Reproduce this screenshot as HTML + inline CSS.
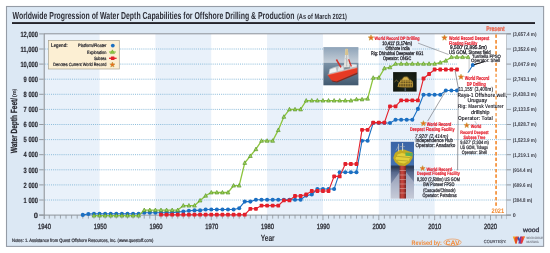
<!DOCTYPE html>
<html><head><meta charset="utf-8"><title>Worldwide Progression of Water Depth Capabilities</title>
<style>
html,body{margin:0;padding:0;background:#fff;}
body{width:550px;height:253px;overflow:hidden;}
svg{display:block;}
text{font-family:"Liberation Sans",sans-serif;}
</style></head><body>
<svg width="550" height="253" viewBox="0 0 550 253" text-rendering="geometricPrecision">

<rect x="0" y="0" width="550" height="253" fill="#ffffff"/>
<rect x="6.5" y="6.5" width="537.1" height="239.9" fill="#dce8f4" stroke="#959ca6" stroke-width="1.1"/>
<text x="12.5" y="19.0" font-size="10.2" font-weight="bold" fill="#2e2f38" textLength="282" lengthAdjust="spacingAndGlyphs">Worldwide Progression of Water Depth Capabilities for Offshore Drilling &amp; Production</text>
<text x="297" y="19.0" font-size="7.6" font-weight="bold" fill="#2e2f38" textLength="50" lengthAdjust="spacingAndGlyphs">(As of March 2021)</text>
<rect x="12" y="22.1" width="523" height="1.9" fill="#23232b"/>
<rect x="43.7" y="33.8" width="462.8" height="181.3" fill="#ffffff"/>
<rect x="43.70" y="33.8" width="55.85" height="181.3" fill="#e9f1fa"/>
<rect x="155.40" y="33.8" width="55.85" height="181.3" fill="#e9f1fa"/>
<rect x="267.10" y="33.8" width="55.85" height="181.3" fill="#e9f1fa"/>
<rect x="378.80" y="33.8" width="55.85" height="181.3" fill="#e9f1fa"/>
<line x1="44.7" y1="200.00" x2="506.5" y2="200.00" stroke="#80b5d6" stroke-width="0.9" stroke-dasharray="1 1.1"/>
<line x1="44.7" y1="184.90" x2="506.5" y2="184.90" stroke="#80b5d6" stroke-width="0.9" stroke-dasharray="1 1.1"/>
<line x1="44.7" y1="169.80" x2="506.5" y2="169.80" stroke="#80b5d6" stroke-width="0.9" stroke-dasharray="1 1.1"/>
<line x1="44.7" y1="154.70" x2="506.5" y2="154.70" stroke="#80b5d6" stroke-width="0.9" stroke-dasharray="1 1.1"/>
<line x1="44.7" y1="139.60" x2="506.5" y2="139.60" stroke="#80b5d6" stroke-width="0.9" stroke-dasharray="1 1.1"/>
<line x1="44.7" y1="124.50" x2="506.5" y2="124.50" stroke="#80b5d6" stroke-width="0.9" stroke-dasharray="1 1.1"/>
<line x1="44.7" y1="109.40" x2="506.5" y2="109.40" stroke="#80b5d6" stroke-width="0.9" stroke-dasharray="1 1.1"/>
<line x1="44.7" y1="94.30" x2="506.5" y2="94.30" stroke="#80b5d6" stroke-width="0.9" stroke-dasharray="1 1.1"/>
<line x1="44.7" y1="79.20" x2="506.5" y2="79.20" stroke="#80b5d6" stroke-width="0.9" stroke-dasharray="1 1.1"/>
<line x1="44.7" y1="64.10" x2="457" y2="64.10" stroke="#80b5d6" stroke-width="0.9" stroke-dasharray="1 1.1"/>
<line x1="44.7" y1="49.00" x2="383.5" y2="49.00" stroke="#80b5d6" stroke-width="0.9" stroke-dasharray="1 1.1"/>
<line x1="412.5" y1="49.00" x2="440" y2="49.00" stroke="#80b5d6" stroke-width="0.9" stroke-dasharray="1 1.1"/>
<line x1="43.7" y1="33.8" x2="511.0" y2="33.8" stroke="#8c9299" stroke-width="1"/>
<line x1="44.2" y1="33.8" x2="44.2" y2="219.1" stroke="#8c9299" stroke-width="1.1"/>
<line x1="506.5" y1="33.8" x2="506.5" y2="219.1" stroke="#b3bac2" stroke-width="0.8"/>
<line x1="39.2" y1="215.1" x2="511.0" y2="215.1" stroke="#8c9299" stroke-width="1"/>
<line x1="39.2" y1="215.10" x2="43.7" y2="215.10" stroke="#8c9299" stroke-width="0.9"/>
<line x1="506.5" y1="215.10" x2="511.0" y2="215.10" stroke="#8c9299" stroke-width="0.9"/>
<line x1="39.2" y1="200.00" x2="43.7" y2="200.00" stroke="#8c9299" stroke-width="0.9"/>
<line x1="506.5" y1="200.00" x2="511.0" y2="200.00" stroke="#8c9299" stroke-width="0.9"/>
<line x1="39.2" y1="184.90" x2="43.7" y2="184.90" stroke="#8c9299" stroke-width="0.9"/>
<line x1="506.5" y1="184.90" x2="511.0" y2="184.90" stroke="#8c9299" stroke-width="0.9"/>
<line x1="39.2" y1="169.80" x2="43.7" y2="169.80" stroke="#8c9299" stroke-width="0.9"/>
<line x1="506.5" y1="169.80" x2="511.0" y2="169.80" stroke="#8c9299" stroke-width="0.9"/>
<line x1="39.2" y1="154.70" x2="43.7" y2="154.70" stroke="#8c9299" stroke-width="0.9"/>
<line x1="506.5" y1="154.70" x2="511.0" y2="154.70" stroke="#8c9299" stroke-width="0.9"/>
<line x1="39.2" y1="139.60" x2="43.7" y2="139.60" stroke="#8c9299" stroke-width="0.9"/>
<line x1="506.5" y1="139.60" x2="511.0" y2="139.60" stroke="#8c9299" stroke-width="0.9"/>
<line x1="39.2" y1="124.50" x2="43.7" y2="124.50" stroke="#8c9299" stroke-width="0.9"/>
<line x1="506.5" y1="124.50" x2="511.0" y2="124.50" stroke="#8c9299" stroke-width="0.9"/>
<line x1="39.2" y1="109.40" x2="43.7" y2="109.40" stroke="#8c9299" stroke-width="0.9"/>
<line x1="506.5" y1="109.40" x2="511.0" y2="109.40" stroke="#8c9299" stroke-width="0.9"/>
<line x1="39.2" y1="94.30" x2="43.7" y2="94.30" stroke="#8c9299" stroke-width="0.9"/>
<line x1="506.5" y1="94.30" x2="511.0" y2="94.30" stroke="#8c9299" stroke-width="0.9"/>
<line x1="39.2" y1="79.20" x2="43.7" y2="79.20" stroke="#8c9299" stroke-width="0.9"/>
<line x1="506.5" y1="79.20" x2="511.0" y2="79.20" stroke="#8c9299" stroke-width="0.9"/>
<line x1="39.2" y1="64.10" x2="43.7" y2="64.10" stroke="#8c9299" stroke-width="0.9"/>
<line x1="506.5" y1="64.10" x2="511.0" y2="64.10" stroke="#8c9299" stroke-width="0.9"/>
<line x1="39.2" y1="49.00" x2="43.7" y2="49.00" stroke="#8c9299" stroke-width="0.9"/>
<line x1="506.5" y1="49.00" x2="511.0" y2="49.00" stroke="#8c9299" stroke-width="0.9"/>
<line x1="39.2" y1="33.90" x2="43.7" y2="33.90" stroke="#8c9299" stroke-width="0.9"/>
<line x1="506.5" y1="33.90" x2="511.0" y2="33.90" stroke="#8c9299" stroke-width="0.9"/>
<line x1="49.29" y1="215.1" x2="49.29" y2="218.6" stroke="#8c9299" stroke-width="0.8"/>
<line x1="54.87" y1="215.1" x2="54.87" y2="218.6" stroke="#8c9299" stroke-width="0.8"/>
<line x1="60.45" y1="215.1" x2="60.45" y2="218.6" stroke="#8c9299" stroke-width="0.8"/>
<line x1="66.04" y1="215.1" x2="66.04" y2="218.6" stroke="#8c9299" stroke-width="0.8"/>
<line x1="71.62" y1="215.1" x2="71.62" y2="218.6" stroke="#8c9299" stroke-width="0.8"/>
<line x1="77.21" y1="215.1" x2="77.21" y2="218.6" stroke="#8c9299" stroke-width="0.8"/>
<line x1="82.80" y1="215.1" x2="82.80" y2="218.6" stroke="#8c9299" stroke-width="0.8"/>
<line x1="88.38" y1="215.1" x2="88.38" y2="218.6" stroke="#8c9299" stroke-width="0.8"/>
<line x1="93.97" y1="215.1" x2="93.97" y2="218.6" stroke="#8c9299" stroke-width="0.8"/>
<line x1="99.55" y1="215.1" x2="99.55" y2="220.1" stroke="#8c9299" stroke-width="0.8"/>
<line x1="105.14" y1="215.1" x2="105.14" y2="218.6" stroke="#8c9299" stroke-width="0.8"/>
<line x1="110.72" y1="215.1" x2="110.72" y2="218.6" stroke="#8c9299" stroke-width="0.8"/>
<line x1="116.31" y1="215.1" x2="116.31" y2="218.6" stroke="#8c9299" stroke-width="0.8"/>
<line x1="121.89" y1="215.1" x2="121.89" y2="218.6" stroke="#8c9299" stroke-width="0.8"/>
<line x1="127.48" y1="215.1" x2="127.48" y2="218.6" stroke="#8c9299" stroke-width="0.8"/>
<line x1="133.06" y1="215.1" x2="133.06" y2="218.6" stroke="#8c9299" stroke-width="0.8"/>
<line x1="138.64" y1="215.1" x2="138.64" y2="218.6" stroke="#8c9299" stroke-width="0.8"/>
<line x1="144.23" y1="215.1" x2="144.23" y2="218.6" stroke="#8c9299" stroke-width="0.8"/>
<line x1="149.81" y1="215.1" x2="149.81" y2="218.6" stroke="#8c9299" stroke-width="0.8"/>
<line x1="155.40" y1="215.1" x2="155.40" y2="220.1" stroke="#8c9299" stroke-width="0.8"/>
<line x1="160.99" y1="215.1" x2="160.99" y2="218.6" stroke="#8c9299" stroke-width="0.8"/>
<line x1="166.57" y1="215.1" x2="166.57" y2="218.6" stroke="#8c9299" stroke-width="0.8"/>
<line x1="172.16" y1="215.1" x2="172.16" y2="218.6" stroke="#8c9299" stroke-width="0.8"/>
<line x1="177.74" y1="215.1" x2="177.74" y2="218.6" stroke="#8c9299" stroke-width="0.8"/>
<line x1="183.32" y1="215.1" x2="183.32" y2="218.6" stroke="#8c9299" stroke-width="0.8"/>
<line x1="188.91" y1="215.1" x2="188.91" y2="218.6" stroke="#8c9299" stroke-width="0.8"/>
<line x1="194.50" y1="215.1" x2="194.50" y2="218.6" stroke="#8c9299" stroke-width="0.8"/>
<line x1="200.08" y1="215.1" x2="200.08" y2="218.6" stroke="#8c9299" stroke-width="0.8"/>
<line x1="205.67" y1="215.1" x2="205.67" y2="218.6" stroke="#8c9299" stroke-width="0.8"/>
<line x1="211.25" y1="215.1" x2="211.25" y2="220.1" stroke="#8c9299" stroke-width="0.8"/>
<line x1="216.83" y1="215.1" x2="216.83" y2="218.6" stroke="#8c9299" stroke-width="0.8"/>
<line x1="222.42" y1="215.1" x2="222.42" y2="218.6" stroke="#8c9299" stroke-width="0.8"/>
<line x1="228.00" y1="215.1" x2="228.00" y2="218.6" stroke="#8c9299" stroke-width="0.8"/>
<line x1="233.59" y1="215.1" x2="233.59" y2="218.6" stroke="#8c9299" stroke-width="0.8"/>
<line x1="239.18" y1="215.1" x2="239.18" y2="218.6" stroke="#8c9299" stroke-width="0.8"/>
<line x1="244.76" y1="215.1" x2="244.76" y2="218.6" stroke="#8c9299" stroke-width="0.8"/>
<line x1="250.35" y1="215.1" x2="250.35" y2="218.6" stroke="#8c9299" stroke-width="0.8"/>
<line x1="255.93" y1="215.1" x2="255.93" y2="218.6" stroke="#8c9299" stroke-width="0.8"/>
<line x1="261.51" y1="215.1" x2="261.51" y2="218.6" stroke="#8c9299" stroke-width="0.8"/>
<line x1="267.10" y1="215.1" x2="267.10" y2="220.1" stroke="#8c9299" stroke-width="0.8"/>
<line x1="272.69" y1="215.1" x2="272.69" y2="218.6" stroke="#8c9299" stroke-width="0.8"/>
<line x1="278.27" y1="215.1" x2="278.27" y2="218.6" stroke="#8c9299" stroke-width="0.8"/>
<line x1="283.86" y1="215.1" x2="283.86" y2="218.6" stroke="#8c9299" stroke-width="0.8"/>
<line x1="289.44" y1="215.1" x2="289.44" y2="218.6" stroke="#8c9299" stroke-width="0.8"/>
<line x1="295.02" y1="215.1" x2="295.02" y2="218.6" stroke="#8c9299" stroke-width="0.8"/>
<line x1="300.61" y1="215.1" x2="300.61" y2="218.6" stroke="#8c9299" stroke-width="0.8"/>
<line x1="306.19" y1="215.1" x2="306.19" y2="218.6" stroke="#8c9299" stroke-width="0.8"/>
<line x1="311.78" y1="215.1" x2="311.78" y2="218.6" stroke="#8c9299" stroke-width="0.8"/>
<line x1="317.37" y1="215.1" x2="317.37" y2="218.6" stroke="#8c9299" stroke-width="0.8"/>
<line x1="322.95" y1="215.1" x2="322.95" y2="220.1" stroke="#8c9299" stroke-width="0.8"/>
<line x1="328.53" y1="215.1" x2="328.53" y2="218.6" stroke="#8c9299" stroke-width="0.8"/>
<line x1="334.12" y1="215.1" x2="334.12" y2="218.6" stroke="#8c9299" stroke-width="0.8"/>
<line x1="339.70" y1="215.1" x2="339.70" y2="218.6" stroke="#8c9299" stroke-width="0.8"/>
<line x1="345.29" y1="215.1" x2="345.29" y2="218.6" stroke="#8c9299" stroke-width="0.8"/>
<line x1="350.88" y1="215.1" x2="350.88" y2="218.6" stroke="#8c9299" stroke-width="0.8"/>
<line x1="356.46" y1="215.1" x2="356.46" y2="218.6" stroke="#8c9299" stroke-width="0.8"/>
<line x1="362.04" y1="215.1" x2="362.04" y2="218.6" stroke="#8c9299" stroke-width="0.8"/>
<line x1="367.63" y1="215.1" x2="367.63" y2="218.6" stroke="#8c9299" stroke-width="0.8"/>
<line x1="373.21" y1="215.1" x2="373.21" y2="218.6" stroke="#8c9299" stroke-width="0.8"/>
<line x1="378.80" y1="215.1" x2="378.80" y2="220.1" stroke="#8c9299" stroke-width="0.8"/>
<line x1="384.38" y1="215.1" x2="384.38" y2="218.6" stroke="#8c9299" stroke-width="0.8"/>
<line x1="389.97" y1="215.1" x2="389.97" y2="218.6" stroke="#8c9299" stroke-width="0.8"/>
<line x1="395.56" y1="215.1" x2="395.56" y2="218.6" stroke="#8c9299" stroke-width="0.8"/>
<line x1="401.14" y1="215.1" x2="401.14" y2="218.6" stroke="#8c9299" stroke-width="0.8"/>
<line x1="406.72" y1="215.1" x2="406.72" y2="218.6" stroke="#8c9299" stroke-width="0.8"/>
<line x1="412.31" y1="215.1" x2="412.31" y2="218.6" stroke="#8c9299" stroke-width="0.8"/>
<line x1="417.89" y1="215.1" x2="417.89" y2="218.6" stroke="#8c9299" stroke-width="0.8"/>
<line x1="423.48" y1="215.1" x2="423.48" y2="218.6" stroke="#8c9299" stroke-width="0.8"/>
<line x1="429.06" y1="215.1" x2="429.06" y2="218.6" stroke="#8c9299" stroke-width="0.8"/>
<line x1="434.65" y1="215.1" x2="434.65" y2="220.1" stroke="#8c9299" stroke-width="0.8"/>
<line x1="440.24" y1="215.1" x2="440.24" y2="218.6" stroke="#8c9299" stroke-width="0.8"/>
<line x1="445.82" y1="215.1" x2="445.82" y2="218.6" stroke="#8c9299" stroke-width="0.8"/>
<line x1="451.40" y1="215.1" x2="451.40" y2="218.6" stroke="#8c9299" stroke-width="0.8"/>
<line x1="456.99" y1="215.1" x2="456.99" y2="218.6" stroke="#8c9299" stroke-width="0.8"/>
<line x1="462.57" y1="215.1" x2="462.57" y2="218.6" stroke="#8c9299" stroke-width="0.8"/>
<line x1="468.16" y1="215.1" x2="468.16" y2="218.6" stroke="#8c9299" stroke-width="0.8"/>
<line x1="473.75" y1="215.1" x2="473.75" y2="218.6" stroke="#8c9299" stroke-width="0.8"/>
<line x1="479.33" y1="215.1" x2="479.33" y2="218.6" stroke="#8c9299" stroke-width="0.8"/>
<line x1="484.91" y1="215.1" x2="484.91" y2="218.6" stroke="#8c9299" stroke-width="0.8"/>
<line x1="490.50" y1="215.1" x2="490.50" y2="220.1" stroke="#8c9299" stroke-width="0.8"/>
<line x1="496.08" y1="215.1" x2="496.08" y2="218.6" stroke="#8c9299" stroke-width="0.8"/>
<line x1="501.67" y1="215.1" x2="501.67" y2="218.6" stroke="#8c9299" stroke-width="0.8"/>
<text x="38.0" y="36.60" font-size="7.6" font-weight="bold" fill="#2c2d35" stroke="#2c2d35" stroke-width="0.18" text-anchor="end" textLength="17.6" lengthAdjust="spacingAndGlyphs">12,000</text>
<text x="38.0" y="51.70" font-size="7.6" font-weight="bold" fill="#2c2d35" stroke="#2c2d35" stroke-width="0.18" text-anchor="end" textLength="17.6" lengthAdjust="spacingAndGlyphs">11,000</text>
<text x="38.0" y="66.80" font-size="7.6" font-weight="bold" fill="#2c2d35" stroke="#2c2d35" stroke-width="0.18" text-anchor="end" textLength="17.6" lengthAdjust="spacingAndGlyphs">10,000</text>
<text x="38.0" y="81.90" font-size="7.6" font-weight="bold" fill="#2c2d35" stroke="#2c2d35" stroke-width="0.18" text-anchor="end" textLength="14.4" lengthAdjust="spacingAndGlyphs">9 000</text>
<text x="38.0" y="97.00" font-size="7.6" font-weight="bold" fill="#2c2d35" stroke="#2c2d35" stroke-width="0.18" text-anchor="end" textLength="14.4" lengthAdjust="spacingAndGlyphs">8 000</text>
<text x="38.0" y="112.10" font-size="7.6" font-weight="bold" fill="#2c2d35" stroke="#2c2d35" stroke-width="0.18" text-anchor="end" textLength="14.4" lengthAdjust="spacingAndGlyphs">7 000</text>
<text x="38.0" y="127.20" font-size="7.6" font-weight="bold" fill="#2c2d35" stroke="#2c2d35" stroke-width="0.18" text-anchor="end" textLength="14.4" lengthAdjust="spacingAndGlyphs">6 000</text>
<text x="38.0" y="142.30" font-size="7.6" font-weight="bold" fill="#2c2d35" stroke="#2c2d35" stroke-width="0.18" text-anchor="end" textLength="14.4" lengthAdjust="spacingAndGlyphs">5 000</text>
<text x="38.0" y="157.40" font-size="7.6" font-weight="bold" fill="#2c2d35" stroke="#2c2d35" stroke-width="0.18" text-anchor="end" textLength="14.4" lengthAdjust="spacingAndGlyphs">4 000</text>
<text x="38.0" y="172.50" font-size="7.6" font-weight="bold" fill="#2c2d35" stroke="#2c2d35" stroke-width="0.18" text-anchor="end" textLength="14.4" lengthAdjust="spacingAndGlyphs">3 000</text>
<text x="38.0" y="187.60" font-size="7.6" font-weight="bold" fill="#2c2d35" stroke="#2c2d35" stroke-width="0.18" text-anchor="end" textLength="14.4" lengthAdjust="spacingAndGlyphs">2 000</text>
<text x="38.0" y="202.70" font-size="7.6" font-weight="bold" fill="#2c2d35" stroke="#2c2d35" stroke-width="0.18" text-anchor="end" textLength="14.4" lengthAdjust="spacingAndGlyphs">1 000</text>
<text x="38.0" y="217.80" font-size="7.6" font-weight="bold" fill="#2c2d35" stroke="#2c2d35" stroke-width="0.18" text-anchor="end">0</text>
<text x="512.7" y="217.00" font-size="5.3" font-weight="bold" fill="#3a3b45">0</text>
<text x="512.7" y="201.90" font-size="5.3" font-weight="bold" fill="#3a3b45" textLength="19.5" lengthAdjust="spacingAndGlyphs">(304.8 m)</text>
<text x="512.7" y="186.80" font-size="5.3" font-weight="bold" fill="#3a3b45" textLength="19.5" lengthAdjust="spacingAndGlyphs">(609.6 m)</text>
<text x="512.7" y="171.70" font-size="5.3" font-weight="bold" fill="#3a3b45" textLength="19.5" lengthAdjust="spacingAndGlyphs">(914.4 m)</text>
<text x="512.7" y="156.60" font-size="5.3" font-weight="bold" fill="#3a3b45" textLength="23.8" lengthAdjust="spacingAndGlyphs">(1,219.1 m)</text>
<text x="512.7" y="141.50" font-size="5.3" font-weight="bold" fill="#3a3b45" textLength="23.8" lengthAdjust="spacingAndGlyphs">(1,523.9 m)</text>
<text x="512.7" y="126.40" font-size="5.3" font-weight="bold" fill="#3a3b45" textLength="23.8" lengthAdjust="spacingAndGlyphs">(1,828.7 m)</text>
<text x="512.7" y="111.30" font-size="5.3" font-weight="bold" fill="#3a3b45" textLength="23.8" lengthAdjust="spacingAndGlyphs">(2,133.5 m)</text>
<text x="512.7" y="96.20" font-size="5.3" font-weight="bold" fill="#3a3b45" textLength="23.8" lengthAdjust="spacingAndGlyphs">(2,438.3 m)</text>
<text x="512.7" y="81.10" font-size="5.3" font-weight="bold" fill="#3a3b45" textLength="23.8" lengthAdjust="spacingAndGlyphs">(2,743.1 m)</text>
<text x="512.7" y="66.00" font-size="5.3" font-weight="bold" fill="#3a3b45" textLength="23.8" lengthAdjust="spacingAndGlyphs">(3,047.9 m)</text>
<text x="512.7" y="50.90" font-size="5.3" font-weight="bold" fill="#3a3b45" textLength="23.8" lengthAdjust="spacingAndGlyphs">(3,352.6 m)</text>
<text x="512.7" y="35.80" font-size="5.3" font-weight="bold" fill="#3a3b45" textLength="23.8" lengthAdjust="spacingAndGlyphs">(3,657.4 m)</text>
<text x="44.50" y="229.2" font-size="7.5" fill="#2e2f37" stroke="#2e2f37" stroke-width="0.35" text-anchor="middle" textLength="12.9" lengthAdjust="spacingAndGlyphs">1940</text>
<text x="100.25" y="229.2" font-size="7.5" fill="#2e2f37" stroke="#2e2f37" stroke-width="0.35" text-anchor="middle" textLength="12.9" lengthAdjust="spacingAndGlyphs">1950</text>
<text x="156.00" y="229.2" font-size="7.5" fill="#2e2f37" stroke="#2e2f37" stroke-width="0.35" text-anchor="middle" textLength="12.9" lengthAdjust="spacingAndGlyphs">1960</text>
<text x="211.75" y="229.2" font-size="7.5" fill="#2e2f37" stroke="#2e2f37" stroke-width="0.35" text-anchor="middle" textLength="12.9" lengthAdjust="spacingAndGlyphs">1970</text>
<text x="267.50" y="229.2" font-size="7.5" fill="#2e2f37" stroke="#2e2f37" stroke-width="0.35" text-anchor="middle" textLength="12.9" lengthAdjust="spacingAndGlyphs">1980</text>
<text x="323.25" y="229.2" font-size="7.5" fill="#2e2f37" stroke="#2e2f37" stroke-width="0.35" text-anchor="middle" textLength="12.9" lengthAdjust="spacingAndGlyphs">1990</text>
<text x="379.00" y="229.2" font-size="7.5" fill="#2e2f37" stroke="#2e2f37" stroke-width="0.35" text-anchor="middle" textLength="12.9" lengthAdjust="spacingAndGlyphs">2000</text>
<text x="434.75" y="229.2" font-size="7.5" fill="#2e2f37" stroke="#2e2f37" stroke-width="0.35" text-anchor="middle" textLength="12.9" lengthAdjust="spacingAndGlyphs">2010</text>
<text x="490.50" y="229.2" font-size="7.5" fill="#2e2f37" stroke="#2e2f37" stroke-width="0.35" text-anchor="middle" textLength="12.9" lengthAdjust="spacingAndGlyphs">2020</text>
<text x="267.7" y="241.3" font-size="9.0" font-weight="bold" fill="#2a2b33" text-anchor="middle" textLength="14.0" lengthAdjust="spacingAndGlyphs">Year</text>
<text transform="translate(17.3,153.2) rotate(-90)" font-size="8.9" font-weight="bold" fill="#2a2b33" stroke="#2a2b33" stroke-width="0.25" textLength="55.2" lengthAdjust="spacingAndGlyphs">Water Depth Feet/</text>
<text transform="translate(16.4,97.2) rotate(-90)" font-size="5.4" fill="#2a2b33" stroke="#2a2b33" stroke-width="0.15" textLength="8.6" lengthAdjust="spacingAndGlyphs">(m)</text>
<line x1="496.08" y1="34.5" x2="496.08" y2="206.2" stroke="#f4913a" stroke-width="1.3" stroke-dasharray="3.3 2.3"/>
<text x="495.5" y="31.1" font-size="6.8" font-weight="bold" fill="#ec5f45" stroke="#ec5f45" stroke-width="0.2" text-anchor="middle" textLength="18.6" lengthAdjust="spacingAndGlyphs">Present</text>
<text x="497.8" y="213.1" font-size="6.6" font-weight="bold" fill="#f28a30" text-anchor="middle" textLength="12.6" lengthAdjust="spacingAndGlyphs">2021</text>
<path d="M82.80,214.90 L88.38,214.00 L93.97,213.80 L99.55,213.80 L105.14,213.80 L110.72,213.80 L116.31,213.80 L121.89,213.80 L127.48,213.80 L133.06,213.80 L138.64,213.80 L144.23,212.80 L149.81,212.80 L155.40,212.80 L160.99,212.80 L166.57,212.80 L172.16,212.80 L177.74,211.90 L183.32,211.50 L188.91,210.80 L194.50,210.40 L200.08,210.40 L205.67,209.50 L211.25,209.50 L216.83,209.50 L222.42,209.50 L228.00,209.50 L233.59,209.50 L239.18,208.20 L244.76,201.60 L250.35,201.60 L255.93,199.70 L261.51,199.70 L267.10,199.70 L272.69,199.70 L278.27,199.70 L283.86,199.70 L289.44,199.70 L295.02,199.70 L300.61,199.70 L306.19,195.60 L311.78,194.50 L317.37,189.00 L322.95,189.00 L328.53,189.00 L334.12,189.00 L339.70,172.20 L345.29,172.20 L350.88,172.20 L356.46,172.20 L362.04,140.70 L367.63,140.70 L373.21,123.00 L378.80,123.00 L384.38,123.00 L389.97,123.00 L395.56,119.70 L401.14,119.70 L406.72,119.70 L412.31,119.70 L417.89,108.90 L423.48,94.70 L429.06,94.70 L434.65,94.70 L440.24,94.70 L445.82,90.50 L451.40,90.50 L456.99,90.50 L472.8,65.0" fill="none" stroke="#1b6fc2" stroke-width="1.1"/>
<circle cx="82.80" cy="214.90" r="2.05" fill="#1b6fc2"/>
<circle cx="88.38" cy="214.00" r="2.05" fill="#1b6fc2"/>
<circle cx="93.97" cy="213.80" r="2.05" fill="#1b6fc2"/>
<circle cx="99.55" cy="213.80" r="2.05" fill="#1b6fc2"/>
<circle cx="105.14" cy="213.80" r="2.05" fill="#1b6fc2"/>
<circle cx="110.72" cy="213.80" r="2.05" fill="#1b6fc2"/>
<circle cx="116.31" cy="213.80" r="2.05" fill="#1b6fc2"/>
<circle cx="121.89" cy="213.80" r="2.05" fill="#1b6fc2"/>
<circle cx="127.48" cy="213.80" r="2.05" fill="#1b6fc2"/>
<circle cx="133.06" cy="213.80" r="2.05" fill="#1b6fc2"/>
<circle cx="138.64" cy="213.80" r="2.05" fill="#1b6fc2"/>
<circle cx="144.23" cy="212.80" r="2.05" fill="#1b6fc2"/>
<circle cx="149.81" cy="212.80" r="2.05" fill="#1b6fc2"/>
<circle cx="155.40" cy="212.80" r="2.05" fill="#1b6fc2"/>
<circle cx="160.99" cy="212.80" r="2.05" fill="#1b6fc2"/>
<circle cx="166.57" cy="212.80" r="2.05" fill="#1b6fc2"/>
<circle cx="172.16" cy="212.80" r="2.05" fill="#1b6fc2"/>
<circle cx="177.74" cy="211.90" r="2.05" fill="#1b6fc2"/>
<circle cx="183.32" cy="211.50" r="2.05" fill="#1b6fc2"/>
<circle cx="188.91" cy="210.80" r="2.05" fill="#1b6fc2"/>
<circle cx="194.50" cy="210.40" r="2.05" fill="#1b6fc2"/>
<circle cx="200.08" cy="210.40" r="2.05" fill="#1b6fc2"/>
<circle cx="205.67" cy="209.50" r="2.05" fill="#1b6fc2"/>
<circle cx="211.25" cy="209.50" r="2.05" fill="#1b6fc2"/>
<circle cx="216.83" cy="209.50" r="2.05" fill="#1b6fc2"/>
<circle cx="222.42" cy="209.50" r="2.05" fill="#1b6fc2"/>
<circle cx="228.00" cy="209.50" r="2.05" fill="#1b6fc2"/>
<circle cx="233.59" cy="209.50" r="2.05" fill="#1b6fc2"/>
<circle cx="239.18" cy="208.20" r="2.05" fill="#1b6fc2"/>
<circle cx="244.76" cy="201.60" r="2.05" fill="#1b6fc2"/>
<circle cx="250.35" cy="201.60" r="2.05" fill="#1b6fc2"/>
<circle cx="255.93" cy="199.70" r="2.05" fill="#1b6fc2"/>
<circle cx="261.51" cy="199.70" r="2.05" fill="#1b6fc2"/>
<circle cx="267.10" cy="199.70" r="2.05" fill="#1b6fc2"/>
<circle cx="272.69" cy="199.70" r="2.05" fill="#1b6fc2"/>
<circle cx="278.27" cy="199.70" r="2.05" fill="#1b6fc2"/>
<circle cx="283.86" cy="199.70" r="2.05" fill="#1b6fc2"/>
<circle cx="289.44" cy="199.70" r="2.05" fill="#1b6fc2"/>
<circle cx="295.02" cy="199.70" r="2.05" fill="#1b6fc2"/>
<circle cx="300.61" cy="199.70" r="2.05" fill="#1b6fc2"/>
<circle cx="306.19" cy="195.60" r="2.05" fill="#1b6fc2"/>
<circle cx="311.78" cy="194.50" r="2.05" fill="#1b6fc2"/>
<circle cx="317.37" cy="189.00" r="2.05" fill="#1b6fc2"/>
<circle cx="322.95" cy="189.00" r="2.05" fill="#1b6fc2"/>
<circle cx="328.53" cy="189.00" r="2.05" fill="#1b6fc2"/>
<circle cx="334.12" cy="189.00" r="2.05" fill="#1b6fc2"/>
<circle cx="339.70" cy="172.20" r="2.05" fill="#1b6fc2"/>
<circle cx="345.29" cy="172.20" r="2.05" fill="#1b6fc2"/>
<circle cx="350.88" cy="172.20" r="2.05" fill="#1b6fc2"/>
<circle cx="356.46" cy="172.20" r="2.05" fill="#1b6fc2"/>
<circle cx="362.04" cy="140.70" r="2.05" fill="#1b6fc2"/>
<circle cx="367.63" cy="140.70" r="2.05" fill="#1b6fc2"/>
<circle cx="373.21" cy="123.00" r="2.05" fill="#1b6fc2"/>
<circle cx="378.80" cy="123.00" r="2.05" fill="#1b6fc2"/>
<circle cx="384.38" cy="123.00" r="2.05" fill="#1b6fc2"/>
<circle cx="389.97" cy="123.00" r="2.05" fill="#1b6fc2"/>
<circle cx="395.56" cy="119.70" r="2.05" fill="#1b6fc2"/>
<circle cx="401.14" cy="119.70" r="2.05" fill="#1b6fc2"/>
<circle cx="406.72" cy="119.70" r="2.05" fill="#1b6fc2"/>
<circle cx="412.31" cy="119.70" r="2.05" fill="#1b6fc2"/>
<circle cx="417.89" cy="108.90" r="2.05" fill="#1b6fc2"/>
<circle cx="423.48" cy="94.70" r="2.05" fill="#1b6fc2"/>
<circle cx="429.06" cy="94.70" r="2.05" fill="#1b6fc2"/>
<circle cx="434.65" cy="94.70" r="2.05" fill="#1b6fc2"/>
<circle cx="440.24" cy="94.70" r="2.05" fill="#1b6fc2"/>
<circle cx="445.82" cy="90.50" r="2.05" fill="#1b6fc2"/>
<circle cx="451.40" cy="90.50" r="2.05" fill="#1b6fc2"/>
<circle cx="456.99" cy="90.50" r="2.05" fill="#1b6fc2"/>
<circle cx="472.8" cy="65.0" r="2.05" fill="#1b6fc2"/>
<path d="M160.99,214.70 L166.57,214.70 L172.16,214.70 L177.74,214.70 L183.32,214.70 L188.91,214.70 L194.50,214.70 L200.08,214.70 L205.67,214.70 L211.25,214.70 L216.83,214.70 L222.42,214.70 L228.00,214.70 L233.59,214.70 L239.18,214.70 L244.76,214.70 L250.35,208.80 L255.93,208.80 L261.51,205.60 L267.10,205.60 L272.69,205.60 L278.27,205.60 L283.86,200.40 L289.44,200.40 L295.02,196.00 L300.61,196.00 L306.19,194.50 L311.78,191.00 L317.37,191.00 L322.95,191.00 L328.53,191.00 L334.12,176.40 L339.70,176.40 L345.29,164.00 L350.88,164.00 L356.46,164.00 L362.04,129.80 L367.63,129.80 L373.21,122.60 L378.80,122.60 L384.38,122.60 L389.97,106.30 L395.56,106.30 L401.14,100.40 L406.72,100.40 L412.31,100.40 L417.89,100.40 L423.48,78.50 L429.06,74.00 L434.65,69.50 L440.24,69.50 L445.82,69.50 L451.40,69.50 L456.99,69.50" fill="none" stroke="#e3202b" stroke-width="1.1"/>
<rect x="159.09" y="212.80" width="3.8" height="3.8" rx="0.9" fill="#e3202b"/>
<rect x="164.67" y="212.80" width="3.8" height="3.8" rx="0.9" fill="#e3202b"/>
<rect x="170.26" y="212.80" width="3.8" height="3.8" rx="0.9" fill="#e3202b"/>
<rect x="175.84" y="212.80" width="3.8" height="3.8" rx="0.9" fill="#e3202b"/>
<rect x="181.42" y="212.80" width="3.8" height="3.8" rx="0.9" fill="#e3202b"/>
<rect x="187.01" y="212.80" width="3.8" height="3.8" rx="0.9" fill="#e3202b"/>
<rect x="192.59" y="212.80" width="3.8" height="3.8" rx="0.9" fill="#e3202b"/>
<rect x="198.18" y="212.80" width="3.8" height="3.8" rx="0.9" fill="#e3202b"/>
<rect x="203.77" y="212.80" width="3.8" height="3.8" rx="0.9" fill="#e3202b"/>
<rect x="209.35" y="212.80" width="3.8" height="3.8" rx="0.9" fill="#e3202b"/>
<rect x="214.93" y="212.80" width="3.8" height="3.8" rx="0.9" fill="#e3202b"/>
<rect x="220.52" y="212.80" width="3.8" height="3.8" rx="0.9" fill="#e3202b"/>
<rect x="226.10" y="212.80" width="3.8" height="3.8" rx="0.9" fill="#e3202b"/>
<rect x="231.69" y="212.80" width="3.8" height="3.8" rx="0.9" fill="#e3202b"/>
<rect x="237.28" y="212.80" width="3.8" height="3.8" rx="0.9" fill="#e3202b"/>
<rect x="242.86" y="212.80" width="3.8" height="3.8" rx="0.9" fill="#e3202b"/>
<rect x="248.45" y="206.90" width="3.8" height="3.8" rx="0.9" fill="#e3202b"/>
<rect x="254.03" y="206.90" width="3.8" height="3.8" rx="0.9" fill="#e3202b"/>
<rect x="259.62" y="203.70" width="3.8" height="3.8" rx="0.9" fill="#e3202b"/>
<rect x="265.20" y="203.70" width="3.8" height="3.8" rx="0.9" fill="#e3202b"/>
<rect x="270.79" y="203.70" width="3.8" height="3.8" rx="0.9" fill="#e3202b"/>
<rect x="276.37" y="203.70" width="3.8" height="3.8" rx="0.9" fill="#e3202b"/>
<rect x="281.96" y="198.50" width="3.8" height="3.8" rx="0.9" fill="#e3202b"/>
<rect x="287.54" y="198.50" width="3.8" height="3.8" rx="0.9" fill="#e3202b"/>
<rect x="293.12" y="194.10" width="3.8" height="3.8" rx="0.9" fill="#e3202b"/>
<rect x="298.71" y="194.10" width="3.8" height="3.8" rx="0.9" fill="#e3202b"/>
<rect x="304.30" y="192.60" width="3.8" height="3.8" rx="0.9" fill="#e3202b"/>
<rect x="309.88" y="189.10" width="3.8" height="3.8" rx="0.9" fill="#e3202b"/>
<rect x="315.47" y="189.10" width="3.8" height="3.8" rx="0.9" fill="#e3202b"/>
<rect x="321.05" y="189.10" width="3.8" height="3.8" rx="0.9" fill="#e3202b"/>
<rect x="326.63" y="189.10" width="3.8" height="3.8" rx="0.9" fill="#e3202b"/>
<rect x="332.22" y="174.50" width="3.8" height="3.8" rx="0.9" fill="#e3202b"/>
<rect x="337.81" y="174.50" width="3.8" height="3.8" rx="0.9" fill="#e3202b"/>
<rect x="343.39" y="162.10" width="3.8" height="3.8" rx="0.9" fill="#e3202b"/>
<rect x="348.98" y="162.10" width="3.8" height="3.8" rx="0.9" fill="#e3202b"/>
<rect x="354.56" y="162.10" width="3.8" height="3.8" rx="0.9" fill="#e3202b"/>
<rect x="360.14" y="127.90" width="3.8" height="3.8" rx="0.9" fill="#e3202b"/>
<rect x="365.73" y="127.90" width="3.8" height="3.8" rx="0.9" fill="#e3202b"/>
<rect x="371.31" y="120.70" width="3.8" height="3.8" rx="0.9" fill="#e3202b"/>
<rect x="376.90" y="120.70" width="3.8" height="3.8" rx="0.9" fill="#e3202b"/>
<rect x="382.49" y="120.70" width="3.8" height="3.8" rx="0.9" fill="#e3202b"/>
<rect x="388.07" y="104.40" width="3.8" height="3.8" rx="0.9" fill="#e3202b"/>
<rect x="393.66" y="104.40" width="3.8" height="3.8" rx="0.9" fill="#e3202b"/>
<rect x="399.24" y="98.50" width="3.8" height="3.8" rx="0.9" fill="#e3202b"/>
<rect x="404.82" y="98.50" width="3.8" height="3.8" rx="0.9" fill="#e3202b"/>
<rect x="410.41" y="98.50" width="3.8" height="3.8" rx="0.9" fill="#e3202b"/>
<rect x="416.00" y="98.50" width="3.8" height="3.8" rx="0.9" fill="#e3202b"/>
<rect x="421.58" y="76.60" width="3.8" height="3.8" rx="0.9" fill="#e3202b"/>
<rect x="427.17" y="72.10" width="3.8" height="3.8" rx="0.9" fill="#e3202b"/>
<rect x="432.75" y="67.60" width="3.8" height="3.8" rx="0.9" fill="#e3202b"/>
<rect x="438.34" y="67.60" width="3.8" height="3.8" rx="0.9" fill="#e3202b"/>
<rect x="443.92" y="67.60" width="3.8" height="3.8" rx="0.9" fill="#e3202b"/>
<rect x="449.50" y="67.60" width="3.8" height="3.8" rx="0.9" fill="#e3202b"/>
<rect x="455.09" y="67.60" width="3.8" height="3.8" rx="0.9" fill="#e3202b"/>
<path d="M93.97,215.60 L99.55,215.60 L105.14,215.60 L110.72,215.60 L116.31,215.60 L121.89,215.60 L127.48,215.60 L133.06,215.60 L138.64,215.60 L144.23,210.10 L149.81,210.10 L155.40,210.10 L160.99,210.10 L166.57,210.10 L172.16,210.10 L177.74,210.10 L183.32,205.60 L188.91,205.60 L194.50,205.60 L200.08,200.50 L205.67,195.70 L211.25,192.50 L216.83,192.50 L222.42,192.50 L228.00,192.50 L233.59,185.60 L239.18,185.60 L244.76,162.90 L250.35,156.00 L255.93,149.20 L261.51,140.80 L267.10,140.80 L272.69,140.80 L278.27,130.10 L283.86,116.80 L289.44,109.40 L295.02,109.40 L300.61,109.40 L306.19,100.60 L311.78,100.60 L317.37,100.60 L322.95,100.60 L328.53,100.60 L334.12,100.60 L339.70,100.60 L345.29,100.60 L350.88,100.60 L356.46,99.40 L362.04,99.40 L367.63,98.70 L373.21,77.80 L378.80,77.80 L384.38,68.30 L389.97,67.30 L395.56,63.80 L401.14,63.80 L406.72,63.80 L412.31,63.80 L417.89,63.80 L423.48,63.80 L429.06,63.80 L434.65,63.80 L440.24,62.60 L445.82,60.70 L451.40,57.10 L456.99,57.10 L462.57,57.10 L468.16,57.10" fill="none" stroke="#8cc43e" stroke-width="1.3"/>
<path d="M93.97,213.50 L95.87,217.10 L92.06,217.10 Z" fill="#9fd05a" stroke="#4f8f22" stroke-width="0.6" stroke-linejoin="round"/>
<path d="M99.55,213.50 L101.45,217.10 L97.65,217.10 Z" fill="#9fd05a" stroke="#4f8f22" stroke-width="0.6" stroke-linejoin="round"/>
<path d="M105.14,213.50 L107.04,217.10 L103.23,217.10 Z" fill="#9fd05a" stroke="#4f8f22" stroke-width="0.6" stroke-linejoin="round"/>
<path d="M110.72,213.50 L112.62,217.10 L108.82,217.10 Z" fill="#9fd05a" stroke="#4f8f22" stroke-width="0.6" stroke-linejoin="round"/>
<path d="M116.31,213.50 L118.21,217.10 L114.41,217.10 Z" fill="#9fd05a" stroke="#4f8f22" stroke-width="0.6" stroke-linejoin="round"/>
<path d="M121.89,213.50 L123.79,217.10 L119.99,217.10 Z" fill="#9fd05a" stroke="#4f8f22" stroke-width="0.6" stroke-linejoin="round"/>
<path d="M127.48,213.50 L129.38,217.10 L125.58,217.10 Z" fill="#9fd05a" stroke="#4f8f22" stroke-width="0.6" stroke-linejoin="round"/>
<path d="M133.06,213.50 L134.96,217.10 L131.16,217.10 Z" fill="#9fd05a" stroke="#4f8f22" stroke-width="0.6" stroke-linejoin="round"/>
<path d="M138.64,213.50 L140.54,217.10 L136.74,217.10 Z" fill="#9fd05a" stroke="#4f8f22" stroke-width="0.6" stroke-linejoin="round"/>
<path d="M144.23,208.00 L146.13,211.60 L142.33,211.60 Z" fill="#9fd05a" stroke="#4f8f22" stroke-width="0.6" stroke-linejoin="round"/>
<path d="M149.81,208.00 L151.72,211.60 L147.91,211.60 Z" fill="#9fd05a" stroke="#4f8f22" stroke-width="0.6" stroke-linejoin="round"/>
<path d="M155.40,208.00 L157.30,211.60 L153.50,211.60 Z" fill="#9fd05a" stroke="#4f8f22" stroke-width="0.6" stroke-linejoin="round"/>
<path d="M160.99,208.00 L162.89,211.60 L159.09,211.60 Z" fill="#9fd05a" stroke="#4f8f22" stroke-width="0.6" stroke-linejoin="round"/>
<path d="M166.57,208.00 L168.47,211.60 L164.67,211.60 Z" fill="#9fd05a" stroke="#4f8f22" stroke-width="0.6" stroke-linejoin="round"/>
<path d="M172.16,208.00 L174.06,211.60 L170.26,211.60 Z" fill="#9fd05a" stroke="#4f8f22" stroke-width="0.6" stroke-linejoin="round"/>
<path d="M177.74,208.00 L179.64,211.60 L175.84,211.60 Z" fill="#9fd05a" stroke="#4f8f22" stroke-width="0.6" stroke-linejoin="round"/>
<path d="M183.32,203.50 L185.22,207.10 L181.42,207.10 Z" fill="#9fd05a" stroke="#4f8f22" stroke-width="0.6" stroke-linejoin="round"/>
<path d="M188.91,203.50 L190.81,207.10 L187.01,207.10 Z" fill="#9fd05a" stroke="#4f8f22" stroke-width="0.6" stroke-linejoin="round"/>
<path d="M194.50,203.50 L196.40,207.10 L192.59,207.10 Z" fill="#9fd05a" stroke="#4f8f22" stroke-width="0.6" stroke-linejoin="round"/>
<path d="M200.08,198.40 L201.98,202.00 L198.18,202.00 Z" fill="#9fd05a" stroke="#4f8f22" stroke-width="0.6" stroke-linejoin="round"/>
<path d="M205.67,193.60 L207.57,197.20 L203.77,197.20 Z" fill="#9fd05a" stroke="#4f8f22" stroke-width="0.6" stroke-linejoin="round"/>
<path d="M211.25,190.40 L213.15,194.00 L209.35,194.00 Z" fill="#9fd05a" stroke="#4f8f22" stroke-width="0.6" stroke-linejoin="round"/>
<path d="M216.83,190.40 L218.73,194.00 L214.93,194.00 Z" fill="#9fd05a" stroke="#4f8f22" stroke-width="0.6" stroke-linejoin="round"/>
<path d="M222.42,190.40 L224.32,194.00 L220.52,194.00 Z" fill="#9fd05a" stroke="#4f8f22" stroke-width="0.6" stroke-linejoin="round"/>
<path d="M228.00,190.40 L229.91,194.00 L226.10,194.00 Z" fill="#9fd05a" stroke="#4f8f22" stroke-width="0.6" stroke-linejoin="round"/>
<path d="M233.59,183.50 L235.49,187.10 L231.69,187.10 Z" fill="#9fd05a" stroke="#4f8f22" stroke-width="0.6" stroke-linejoin="round"/>
<path d="M239.18,183.50 L241.08,187.10 L237.28,187.10 Z" fill="#9fd05a" stroke="#4f8f22" stroke-width="0.6" stroke-linejoin="round"/>
<path d="M244.76,160.80 L246.66,164.40 L242.86,164.40 Z" fill="#9fd05a" stroke="#4f8f22" stroke-width="0.6" stroke-linejoin="round"/>
<path d="M250.35,153.90 L252.25,157.50 L248.45,157.50 Z" fill="#9fd05a" stroke="#4f8f22" stroke-width="0.6" stroke-linejoin="round"/>
<path d="M255.93,147.10 L257.83,150.70 L254.03,150.70 Z" fill="#9fd05a" stroke="#4f8f22" stroke-width="0.6" stroke-linejoin="round"/>
<path d="M261.51,138.70 L263.41,142.30 L259.62,142.30 Z" fill="#9fd05a" stroke="#4f8f22" stroke-width="0.6" stroke-linejoin="round"/>
<path d="M267.10,138.70 L269.00,142.30 L265.20,142.30 Z" fill="#9fd05a" stroke="#4f8f22" stroke-width="0.6" stroke-linejoin="round"/>
<path d="M272.69,138.70 L274.58,142.30 L270.79,142.30 Z" fill="#9fd05a" stroke="#4f8f22" stroke-width="0.6" stroke-linejoin="round"/>
<path d="M278.27,128.00 L280.17,131.60 L276.37,131.60 Z" fill="#9fd05a" stroke="#4f8f22" stroke-width="0.6" stroke-linejoin="round"/>
<path d="M283.86,114.70 L285.75,118.30 L281.96,118.30 Z" fill="#9fd05a" stroke="#4f8f22" stroke-width="0.6" stroke-linejoin="round"/>
<path d="M289.44,107.30 L291.34,110.90 L287.54,110.90 Z" fill="#9fd05a" stroke="#4f8f22" stroke-width="0.6" stroke-linejoin="round"/>
<path d="M295.02,107.30 L296.92,110.90 L293.12,110.90 Z" fill="#9fd05a" stroke="#4f8f22" stroke-width="0.6" stroke-linejoin="round"/>
<path d="M300.61,107.30 L302.51,110.90 L298.71,110.90 Z" fill="#9fd05a" stroke="#4f8f22" stroke-width="0.6" stroke-linejoin="round"/>
<path d="M306.19,98.50 L308.09,102.10 L304.30,102.10 Z" fill="#9fd05a" stroke="#4f8f22" stroke-width="0.6" stroke-linejoin="round"/>
<path d="M311.78,98.50 L313.68,102.10 L309.88,102.10 Z" fill="#9fd05a" stroke="#4f8f22" stroke-width="0.6" stroke-linejoin="round"/>
<path d="M317.37,98.50 L319.26,102.10 L315.47,102.10 Z" fill="#9fd05a" stroke="#4f8f22" stroke-width="0.6" stroke-linejoin="round"/>
<path d="M322.95,98.50 L324.85,102.10 L321.05,102.10 Z" fill="#9fd05a" stroke="#4f8f22" stroke-width="0.6" stroke-linejoin="round"/>
<path d="M328.53,98.50 L330.43,102.10 L326.63,102.10 Z" fill="#9fd05a" stroke="#4f8f22" stroke-width="0.6" stroke-linejoin="round"/>
<path d="M334.12,98.50 L336.02,102.10 L332.22,102.10 Z" fill="#9fd05a" stroke="#4f8f22" stroke-width="0.6" stroke-linejoin="round"/>
<path d="M339.70,98.50 L341.60,102.10 L337.81,102.10 Z" fill="#9fd05a" stroke="#4f8f22" stroke-width="0.6" stroke-linejoin="round"/>
<path d="M345.29,98.50 L347.19,102.10 L343.39,102.10 Z" fill="#9fd05a" stroke="#4f8f22" stroke-width="0.6" stroke-linejoin="round"/>
<path d="M350.88,98.50 L352.77,102.10 L348.98,102.10 Z" fill="#9fd05a" stroke="#4f8f22" stroke-width="0.6" stroke-linejoin="round"/>
<path d="M356.46,97.30 L358.36,100.90 L354.56,100.90 Z" fill="#9fd05a" stroke="#4f8f22" stroke-width="0.6" stroke-linejoin="round"/>
<path d="M362.04,97.30 L363.94,100.90 L360.14,100.90 Z" fill="#9fd05a" stroke="#4f8f22" stroke-width="0.6" stroke-linejoin="round"/>
<path d="M367.63,96.60 L369.53,100.20 L365.73,100.20 Z" fill="#9fd05a" stroke="#4f8f22" stroke-width="0.6" stroke-linejoin="round"/>
<path d="M373.21,75.70 L375.11,79.30 L371.31,79.30 Z" fill="#9fd05a" stroke="#4f8f22" stroke-width="0.6" stroke-linejoin="round"/>
<path d="M378.80,75.70 L380.70,79.30 L376.90,79.30 Z" fill="#9fd05a" stroke="#4f8f22" stroke-width="0.6" stroke-linejoin="round"/>
<path d="M384.38,66.20 L386.28,69.80 L382.49,69.80 Z" fill="#9fd05a" stroke="#4f8f22" stroke-width="0.6" stroke-linejoin="round"/>
<path d="M389.97,65.20 L391.87,68.80 L388.07,68.80 Z" fill="#9fd05a" stroke="#4f8f22" stroke-width="0.6" stroke-linejoin="round"/>
<path d="M395.56,61.70 L397.45,65.30 L393.66,65.30 Z" fill="#9fd05a" stroke="#4f8f22" stroke-width="0.6" stroke-linejoin="round"/>
<path d="M401.14,61.70 L403.04,65.30 L399.24,65.30 Z" fill="#9fd05a" stroke="#4f8f22" stroke-width="0.6" stroke-linejoin="round"/>
<path d="M406.72,61.70 L408.62,65.30 L404.82,65.30 Z" fill="#9fd05a" stroke="#4f8f22" stroke-width="0.6" stroke-linejoin="round"/>
<path d="M412.31,61.70 L414.21,65.30 L410.41,65.30 Z" fill="#9fd05a" stroke="#4f8f22" stroke-width="0.6" stroke-linejoin="round"/>
<path d="M417.89,61.70 L419.79,65.30 L416.00,65.30 Z" fill="#9fd05a" stroke="#4f8f22" stroke-width="0.6" stroke-linejoin="round"/>
<path d="M423.48,61.70 L425.38,65.30 L421.58,65.30 Z" fill="#9fd05a" stroke="#4f8f22" stroke-width="0.6" stroke-linejoin="round"/>
<path d="M429.06,61.70 L430.96,65.30 L427.17,65.30 Z" fill="#9fd05a" stroke="#4f8f22" stroke-width="0.6" stroke-linejoin="round"/>
<path d="M434.65,61.70 L436.55,65.30 L432.75,65.30 Z" fill="#9fd05a" stroke="#4f8f22" stroke-width="0.6" stroke-linejoin="round"/>
<path d="M440.24,60.50 L442.13,64.10 L438.34,64.10 Z" fill="#9fd05a" stroke="#4f8f22" stroke-width="0.6" stroke-linejoin="round"/>
<path d="M445.82,58.60 L447.72,62.20 L443.92,62.20 Z" fill="#9fd05a" stroke="#4f8f22" stroke-width="0.6" stroke-linejoin="round"/>
<path d="M451.40,55.00 L453.30,58.60 L449.50,58.60 Z" fill="#9fd05a" stroke="#4f8f22" stroke-width="0.6" stroke-linejoin="round"/>
<path d="M456.99,55.00 L458.89,58.60 L455.09,58.60 Z" fill="#9fd05a" stroke="#4f8f22" stroke-width="0.6" stroke-linejoin="round"/>
<path d="M462.57,55.00 L464.47,58.60 L460.68,58.60 Z" fill="#9fd05a" stroke="#4f8f22" stroke-width="0.6" stroke-linejoin="round"/>
<path d="M468.16,55.00 L470.06,58.60 L466.26,58.60 Z" fill="#9fd05a" stroke="#4f8f22" stroke-width="0.6" stroke-linejoin="round"/>
<line x1="418" y1="43.1" x2="448.5" y2="54.5" stroke="#6d6d72" stroke-width="0.55"/>
<line x1="427.7" y1="121.1" x2="445.4" y2="91.4" stroke="#55565c" stroke-width="0.55"/>
<polyline points="455.0,70.2 458.3,88 457.6,170.3" fill="none" stroke="#55565c" stroke-width="0.6"/>
<line x1="469.1" y1="58.5" x2="469.1" y2="72" stroke="#8d9096" stroke-width="0.5"/>
<line x1="474.2" y1="64.6" x2="484.8" y2="61.5" stroke="#15151a" stroke-width="0.9"/>
<line x1="474.5" y1="120.5" x2="477.5" y2="125.5" stroke="#8d9096" stroke-width="0.45"/>
<defs>
<linearGradient id="g1" x1="0" y1="0" x2="0" y2="1">
<stop offset="0" stop-color="#8ea3b8"/><stop offset="0.4" stop-color="#c4ced8"/>
<stop offset="0.42" stop-color="#7a91a6"/><stop offset="1" stop-color="#42596f"/></linearGradient>
<linearGradient id="g3" x1="0" y1="0" x2="0" y2="1">
<stop offset="0" stop-color="#3a64a6"/><stop offset="0.4" stop-color="#4572b0"/>
<stop offset="0.44" stop-color="#283650"/><stop offset="0.54" stop-color="#56678c"/>
<stop offset="0.8" stop-color="#98a2ba"/><stop offset="1" stop-color="#c3c8d4"/></linearGradient>
<radialGradient id="g2" cx="0.5" cy="0.5" r="0.7">
<stop offset="0" stop-color="#232b1e"/><stop offset="1" stop-color="#10150e"/></radialGradient>
<linearGradient id="gh" x1="0" y1="0" x2="1" y2="0">
<stop offset="0" stop-color="#8a2c28"/><stop offset="0.35" stop-color="#c8483e"/><stop offset="0.65" stop-color="#b43a34"/><stop offset="1" stop-color="#6e2622"/></linearGradient>
</defs>
<rect x="323.4" y="47.1" width="35" height="38.2" fill="url(#g1)"/>
<polygon points="328.6,74 329.4,69 334,67 341,65.6 350,64 356.8,64.6 356.8,68.6 331,75.6" fill="#b9c0c6"/>
<polygon points="329.4,73.2 330.2,69.4 335.6,67.6 336.8,71.6" fill="#f0f2f3"/>
<polygon points="337.6,71.2 338.6,67.2 343,66.2 343.6,70" fill="#e2e6e8"/>
<polygon points="350.4,67.6 351,64.6 356.6,64.8 356.6,66.6" fill="#e8eaec"/>
<polygon points="344,69.4 344.6,66.4 349.8,65.6 350,68.2" fill="#7f8a92"/>
<polygon points="343.8,67.2 345.2,52 345.6,49 347.7,49 348.1,52 349.6,67.2" fill="#e2e3df"/>
<polygon points="345.2,52 345.6,48.8 347.7,48.8 348.1,52 348.2,55 345.1,55" fill="#d6c28e"/>
<line x1="346.7" y1="55" x2="346.7" y2="66.5" stroke="#9aa1a6" stroke-width="0.6"/>
<line x1="345" y1="58" x2="348.4" y2="62" stroke="#a8aeb2" stroke-width="0.4"/>
<line x1="336.4" y1="59.5" x2="341" y2="67.4" stroke="#d6322a" stroke-width="1.5"/>
<line x1="348.6" y1="59.2" x2="351.4" y2="66.5" stroke="#d6322a" stroke-width="1.2"/>
<polygon points="327.4,74.8 357.4,67.6 357.4,72.6 336.5,81.4 331.6,80.4" fill="#e63a24"/>
<polygon points="331.6,80.4 336.5,81.4 357.4,72.6 357.4,74 337,82.6 332.2,81.6" fill="#8c2417"/>
<line x1="327.6" y1="74.8" x2="357.2" y2="67.7" stroke="#f5b8a8" stroke-width="0.5"/>
<rect x="393.1" y="72.1" width="23.5" height="19.5" fill="url(#g2)"/>
<polygon points="397.4,87 398.4,83.2 400.4,80.6 402,78.4 403.4,76.8 407.8,76.6 409.4,78.4 411,80.6 413,83.6 413,87.4 405,87.8" fill="#6a5420"/>
<polygon points="402.6,79.6 404.4,77.4 407,77.4 408.6,79.6" fill="#d8b448"/>
<polyline points="398.2,86.6 399,83.4 401,81 412,81 412.6,83.6 412.6,86.8" fill="none" stroke="#d2ac40" stroke-width="0.8"/>
<polyline points="399,83.6 412.4,83.6" fill="none" stroke="#c8a23c" stroke-width="0.7"/>
<polyline points="398.4,86.6 412.6,86.8" fill="none" stroke="#b8943a" stroke-width="0.7"/>
<line x1="400.8" y1="79.6" x2="400.8" y2="86.8" stroke="#caa43e" stroke-width="0.6"/>
<line x1="403.2" y1="79.6" x2="403.2" y2="86.8" stroke="#caa43e" stroke-width="0.6"/>
<line x1="405.6" y1="79.6" x2="405.6" y2="86.8" stroke="#caa43e" stroke-width="0.6"/>
<line x1="408.0" y1="79.6" x2="408.0" y2="86.8" stroke="#caa43e" stroke-width="0.6"/>
<line x1="410.4" y1="79.6" x2="410.4" y2="86.8" stroke="#caa43e" stroke-width="0.6"/>
<polyline points="402.6,79.6 404.4,77.2 407,77.2 408.6,79.6 402.6,79.6" fill="none" stroke="#e6c25a" stroke-width="0.6"/>
<polyline points="394.4,82 396.4,80.2 398.6,82" fill="none" stroke="#b09440" stroke-width="0.6"/>
<line x1="405.2" y1="87.8" x2="405.2" y2="91" stroke="#6e7890" stroke-width="0.9"/>
<rect x="390.8" y="141.8" width="23.2" height="56.7" fill="url(#g3)"/>
<polygon points="390.8,184 399.6,172 399.6,198.5 390.8,198.5" fill="#c9cedb" opacity="0.5"/>
<polygon points="414,182 406,172 406,198.5 414,198.5" fill="#c9cedb" opacity="0.5"/>
<rect x="399.6" y="165.5" width="6.4" height="33" fill="url(#gh)"/>
<rect x="399.6" y="170" width="6.4" height="1.0" fill="#e8c8c4" opacity="0.45"/>
<rect x="399.6" y="174.5" width="6.4" height="1.0" fill="#e8c8c4" opacity="0.45"/>
<rect x="399.6" y="179" width="6.4" height="1.0" fill="#e8c8c4" opacity="0.45"/>
<rect x="399.6" y="183.5" width="6.4" height="1.0" fill="#e8c8c4" opacity="0.45"/>
<rect x="399.6" y="188" width="6.4" height="1.0" fill="#e8c8c4" opacity="0.45"/>
<rect x="399.6" y="192.5" width="6.4" height="1.0" fill="#e8c8c4" opacity="0.45"/>
<polygon points="393.2,158 395,153 399,150 404,149.4 408,151 412.5,152.4 412.5,158 409.5,163 405,166 399,165.4 395,162" fill="#c3aa22"/>
<polygon points="395.4,158.5 397.6,154.4 402,153 407,154.2 410.6,156.8 408.4,161.2 404,163.6 399,162.6" fill="#e4d03a"/>
<line x1="396" y1="156.2" x2="410" y2="157.6" stroke="#7d6c14" stroke-width="0.5" opacity="0.8"/>
<line x1="397" y1="160.2" x2="408" y2="161" stroke="#7d6c14" stroke-width="0.5" opacity="0.8"/>
<polygon points="405.4,152.6 412.4,153 412.4,156.2 405.4,155.8" fill="#5aae58"/>
<line x1="398.6" y1="143.8" x2="398.6" y2="151.4" stroke="#d8d8d2" stroke-width="0.8"/>
<line x1="402.6" y1="143" x2="402.6" y2="150.6" stroke="#e6e6e0" stroke-width="0.9"/>
<line x1="400" y1="146.6" x2="405" y2="146.6" stroke="#b8b8b4" stroke-width="0.5"/>
<line x1="396" y1="150.5" x2="398.5" y2="146" stroke="#c8c8c4" stroke-width="0.5"/>
<polygon points="371.00,34.90 371.77,36.74 373.76,36.90 372.24,38.20 372.70,40.15 371.00,39.10 369.30,40.15 369.76,38.20 368.24,36.90 370.23,36.74" fill="#ec6a1e" stroke="#c0a040" stroke-width="0.6" stroke-linejoin="round"/>
<text x="374.6" y="39.6" font-size="4.9" fill="#e5202e" font-weight="bold" stroke="#e5202e" stroke-width="0.2" textLength="44.9" lengthAdjust="spacingAndGlyphs">World Record DP Drilling</text>
<text x="397.1" y="44.7" font-size="5.1" fill="#26262e" stroke="#26262e" stroke-width="0.3" text-anchor="middle" textLength="29.8" lengthAdjust="spacingAndGlyphs">10,411&#8217; (3,174m)</text>
<text x="397.6" y="49.8" font-size="5.1" fill="#26262e" stroke="#26262e" stroke-width="0.3" text-anchor="middle" textLength="24.4" lengthAdjust="spacingAndGlyphs">Offshore India</text>
<text x="397.2" y="55.2" font-size="5.1" fill="#26262e" stroke="#26262e" stroke-width="0.3" text-anchor="middle" textLength="52.2" lengthAdjust="spacingAndGlyphs">Rig: Dhirubhai Deepwater KG1</text>
<text x="397.1" y="60.2" font-size="5.1" fill="#26262e" stroke="#26262e" stroke-width="0.3" text-anchor="middle" textLength="28.4" lengthAdjust="spacingAndGlyphs">Operator: ONGC</text>
<polygon points="444.50,34.90 445.27,36.74 447.26,36.90 445.74,38.20 446.20,40.15 444.50,39.10 442.80,40.15 443.26,38.20 441.74,36.90 443.73,36.74" fill="#ec6a1e" stroke="#c0a040" stroke-width="0.6" stroke-linejoin="round"/>
<text x="449.1" y="39.8" font-size="5.2" fill="#e5202e" font-weight="bold" stroke="#e5202e" stroke-width="0.2" textLength="40.2" lengthAdjust="spacingAndGlyphs">World Record Deepest</text>
<text x="449.1" y="44.6" font-size="5.2" fill="#e5202e" font-weight="bold" stroke="#e5202e" stroke-width="0.2" textLength="28.2" lengthAdjust="spacingAndGlyphs">Floating Facility</text>
<text x="450.1" y="49.1" font-size="5.4" fill="#26262e" stroke="#26262e" stroke-width="0.3" textLength="36.7" lengthAdjust="spacingAndGlyphs">9,500&#8217; (2,895.5m)</text>
<text x="449.1" y="53.7" font-size="5.3" fill="#26262e" stroke="#26262e" stroke-width="0.28" textLength="41.5" lengthAdjust="spacingAndGlyphs">US GOM, Stones field</text>
<rect x="458.8" y="72.6" width="47.2" height="48.4" fill="#ffffff"/>
<line x1="496.08" y1="34.5" x2="496.08" y2="206.2" stroke="#f4913a" stroke-width="1.3" stroke-dasharray="3.3 2.3"/>
<polygon points="461.00,74.20 461.74,75.98 463.66,76.13 462.20,77.39 462.65,79.27 461.00,78.26 459.35,79.27 459.80,77.39 458.34,76.13 460.26,75.98" fill="#ec6a1e" stroke="#c0a040" stroke-width="0.6" stroke-linejoin="round"/>
<text x="464.7" y="79.5" font-size="5.6" fill="#e5202e" font-weight="bold" stroke="#e5202e" stroke-width="0.2" textLength="24.7" lengthAdjust="spacingAndGlyphs">World Record</text>
<text x="466.8" y="85.8" font-size="5.6" fill="#e5202e" font-weight="bold" stroke="#e5202e" stroke-width="0.2" textLength="19.0" lengthAdjust="spacingAndGlyphs">DP Drilling</text>
<text x="458.6" y="90.8" font-size="6.0" fill="#26262e" font-weight="bold" textLength="34.3" lengthAdjust="spacingAndGlyphs">11,155&#8217; (3,400m)</text>
<text x="457.4" y="96.8" font-size="6.0" fill="#26262e" font-weight="bold" textLength="49.7" lengthAdjust="spacingAndGlyphs">Raya-1 Offshore well,</text>
<text x="467.4" y="102.3" font-size="5.4" fill="#26262e" stroke="#26262e" stroke-width="0.2" textLength="19.6" lengthAdjust="spacingAndGlyphs">Uruguay</text>
<text x="458.0" y="108.3" font-size="5.6" fill="#26262e" font-weight="bold" textLength="45.6" lengthAdjust="spacingAndGlyphs">Rig: Maersk Venturer</text>
<text x="471.0" y="113.6" font-size="5.4" fill="#26262e" stroke="#26262e" stroke-width="0.2" textLength="18.4" lengthAdjust="spacingAndGlyphs">drillship</text>
<text x="458.0" y="119.5" font-size="5.6" fill="#26262e" font-weight="bold" textLength="34.9" lengthAdjust="spacingAndGlyphs">Operator: Total</text>
<rect x="470.6" y="54.9" width="31" height="7.7" fill="#ffffff"/>
<text x="472.0" y="58.1" font-size="4.7" fill="#26262e" stroke="#26262e" stroke-width="0.22" textLength="28.9" lengthAdjust="spacingAndGlyphs">Turritella FPSO</text>
<text x="471.1" y="61.7" font-size="4.7" fill="#26262e" stroke="#26262e" stroke-width="0.22" textLength="29.1" lengthAdjust="spacingAndGlyphs">Operator: Shell</text>
<line x1="474.2" y1="64.6" x2="484.8" y2="61.5" stroke="#15151a" stroke-width="0.9"/>
<polygon points="423.40,120.70 424.14,122.48 426.06,122.63 424.60,123.89 425.05,125.77 423.40,124.76 421.75,125.77 422.20,123.89 420.74,122.63 422.66,122.48" fill="#ec6a1e" stroke="#c0a040" stroke-width="0.6" stroke-linejoin="round"/>
<text x="426.8" y="126.0" font-size="5.2" fill="#e5202e" font-weight="bold" stroke="#e5202e" stroke-width="0.2" textLength="24.5" lengthAdjust="spacingAndGlyphs">World Record</text>
<text x="410.0" y="131.0" font-size="5.2" fill="#e5202e" font-weight="bold" stroke="#e5202e" stroke-width="0.2" textLength="44.5" lengthAdjust="spacingAndGlyphs">Deepest Floating Facility</text>
<text x="415.1" y="137.6" font-size="5.6" fill="#26262e" font-weight="bold" textLength="33.1" lengthAdjust="spacingAndGlyphs" font-style="italic">7,920&#8217; (2,414m)</text>
<text x="415.5" y="142.2" font-size="5.4" fill="#26262e" stroke="#26262e" stroke-width="0.25" textLength="37.5" lengthAdjust="spacingAndGlyphs">Independence Hub</text>
<text x="415.5" y="147.1" font-size="5.4" fill="#26262e" stroke="#26262e" stroke-width="0.25" textLength="39.7" lengthAdjust="spacingAndGlyphs">Operator: Anadarko</text>
<polygon points="466.70,122.70 467.41,124.42 469.27,124.57 467.86,125.78 468.29,127.58 466.70,126.62 465.11,127.58 465.54,125.78 464.13,124.57 465.99,124.42" fill="#ec6a1e" stroke="#c0a040" stroke-width="0.6" stroke-linejoin="round"/>
<text x="470.7" y="127.7" font-size="4.8" fill="#e5202e" font-weight="bold" stroke="#e5202e" stroke-width="0.2" textLength="10.6" lengthAdjust="spacingAndGlyphs">World</text>
<text x="460.3" y="134.0" font-size="4.8" fill="#e5202e" font-weight="bold" stroke="#e5202e" stroke-width="0.2" textLength="28.2" lengthAdjust="spacingAndGlyphs">Record Deepest</text>
<text x="463.5" y="138.9" font-size="4.8" fill="#e5202e" font-weight="bold" stroke="#e5202e" stroke-width="0.2" textLength="21.7" lengthAdjust="spacingAndGlyphs">Subsea Tree</text>
<text x="460.3" y="144.3" font-size="4.9" fill="#26262e" stroke="#26262e" stroke-width="0.22" textLength="28.5" lengthAdjust="spacingAndGlyphs">9,627&#8217; (2,934 m)</text>
<text x="460.3" y="149.3" font-size="4.9" fill="#26262e" stroke="#26262e" stroke-width="0.22" textLength="27.6" lengthAdjust="spacingAndGlyphs">US GOM, Tobago</text>
<text x="461.8" y="154.4" font-size="4.9" fill="#26262e" stroke="#26262e" stroke-width="0.22" textLength="25.2" lengthAdjust="spacingAndGlyphs">Operator: Shell</text>
<polygon points="422.60,165.70 423.31,167.42 425.17,167.57 423.76,168.78 424.19,170.58 422.60,169.62 421.01,170.58 421.44,168.78 420.03,167.57 421.89,167.42" fill="#ec6a1e" stroke="#c0a040" stroke-width="0.6" stroke-linejoin="round"/>
<text x="426.4" y="170.9" font-size="4.8" fill="#e5202e" font-weight="bold" stroke="#e5202e" stroke-width="0.2" textLength="25.4" lengthAdjust="spacingAndGlyphs">World Record</text>
<text x="417.1" y="175.4" font-size="4.8" fill="#e5202e" font-weight="bold" stroke="#e5202e" stroke-width="0.2" textLength="42.7" lengthAdjust="spacingAndGlyphs">Deepest Floating Facility</text>
<text x="417.1" y="180.8" font-size="5.1" fill="#26262e" stroke="#26262e" stroke-width="0.25" textLength="42.7" lengthAdjust="spacingAndGlyphs">8,200&#8217; (2,500m) US GOM</text>
<text x="423.3" y="186.2" font-size="5.1" fill="#26262e" stroke="#26262e" stroke-width="0.25" textLength="31.2" lengthAdjust="spacingAndGlyphs">BW Pioneer FPSO</text>
<text x="423.3" y="191.8" font-size="5.1" fill="#26262e" stroke="#26262e" stroke-width="0.25" textLength="32.1" lengthAdjust="spacingAndGlyphs">(Cascade/Chinook)</text>
<text x="422.5" y="196.8" font-size="5.1" fill="#26262e" stroke="#26262e" stroke-width="0.25" textLength="34.1" lengthAdjust="spacingAndGlyphs">Operator: Petrobras</text>
<rect x="48.5" y="40.4" width="70.8" height="28.6" fill="#fcefd3" stroke="#a9a390" stroke-width="0.7"/>
<text x="51.1" y="47.0" font-size="5.3" fill="#26262e" font-weight="bold" stroke="#26262e" stroke-width="0.12" textLength="16.6" lengthAdjust="spacingAndGlyphs">Legend:</text>
<text x="106.3" y="47.2" font-size="4.6" fill="#26262e" stroke="#26262e" stroke-width="0.22" text-anchor="end" textLength="28.2" lengthAdjust="spacingAndGlyphs">Platform/Floater</text>
<text x="106.3" y="53.5" font-size="4.6" fill="#26262e" stroke="#26262e" stroke-width="0.22" text-anchor="end" textLength="19.2" lengthAdjust="spacingAndGlyphs">Exploration</text>
<text x="106.3" y="59.9" font-size="4.6" fill="#26262e" stroke="#26262e" stroke-width="0.22" text-anchor="end" textLength="12.4" lengthAdjust="spacingAndGlyphs">Subsea</text>
<text x="106.3" y="66.2" font-size="4.6" fill="#26262e" stroke="#26262e" stroke-width="0.22" text-anchor="end" textLength="53.0" lengthAdjust="spacingAndGlyphs">Denotes Current World Record</text>
<circle cx="112.8" cy="45.6" r="1.9" fill="#1b6fc2"/>
<line x1="109" y1="52" x2="115.8" y2="52" stroke="#8cc43e" stroke-width="1.2"/>
<path d="M112.4,49.8 L114.6,53.6 L110.2,53.6 Z" fill="#8cc43e" stroke="#5d9a2c" stroke-width="0.4"/>
<line x1="109" y1="58.3" x2="116.6" y2="58.3" stroke="#e3202b" stroke-width="1.3"/>
<rect x="110.9" y="56.5" width="3.6" height="3.6" rx="0.6" fill="#e3202b"/>
<polygon points="112.40,62.10 113.11,63.82 114.97,63.97 113.56,65.18 113.99,66.98 112.40,66.02 110.81,66.98 111.24,65.18 109.83,63.97 111.69,63.82" fill="#ec6a1e" stroke="#c0a040" stroke-width="0.6" stroke-linejoin="round"/>
<text x="12" y="242.4" font-size="4.8" fill="#33343d" stroke="#33343d" stroke-width="0.22" textLength="141.3" lengthAdjust="spacingAndGlyphs">Notes: 1. Assistance from Quest Offshore Resources, Inc. (www.questoff.com)</text>
<text x="411.5" y="244.6" font-size="6.6" fill="#f28b3a" font-weight="bold" textLength="30.3" lengthAdjust="spacingAndGlyphs">Revised by:</text>
<text x="445.4" y="244.5" font-size="6.4" fill="#f28b3a" font-weight="bold" textLength="14.2" lengthAdjust="spacingAndGlyphs">CAV</text>
<ellipse cx="452.5" cy="242.3" rx="8.7" ry="3.3" fill="none" stroke="#f28b3a" stroke-width="0.6"/>
<text x="523.0" y="232.3" font-size="6.4" fill="#3f4150" stroke="#3f4150" stroke-width="0.35" textLength="16.3" lengthAdjust="spacingAndGlyphs">wood</text>
<text x="483.8" y="242.8" font-size="4.4" fill="#4a4c58" stroke="#4a4c58" stroke-width="0.18" textLength="22.6" lengthAdjust="spacingAndGlyphs">COURTESY:</text>
<polygon points="512.8,236.5 515.7,236.5 517.1,243.5 515.3,243.5" fill="#f4a11c"/>
<polygon points="514.6,238.5 515.9,236.6 518.9,236.6 516.5,243.5 515.3,243.5" fill="#e4482c"/>
<polygon points="517.3,238.2 518.8,236.8 521.9,243.5 519.9,243.5" fill="#3550b0"/>
<polygon points="518.3,243.5 520.2,236.5 522.2,236.5 520.8,243.5" fill="#7a3b9e"/>
<polygon points="521.6,236.5 524.8,236.5 522.2,243.5 520.6,243.5" fill="#e8383a"/>
<polygon points="523.0,236.5 524.8,236.5 523.6,239.5" fill="#f28a1e"/>
<text x="526.4" y="239.4" font-size="3.1" fill="#7d808c" stroke="#7d808c" stroke-width="0.12" textLength="16.6" lengthAdjust="spacingAndGlyphs">WOOD GROUP</text>
<text x="526.4" y="243.0" font-size="3.1" fill="#7d808c" stroke="#7d808c" stroke-width="0.12" textLength="12.2" lengthAdjust="spacingAndGlyphs">MUSTANG</text>
</svg>
</body></html>
